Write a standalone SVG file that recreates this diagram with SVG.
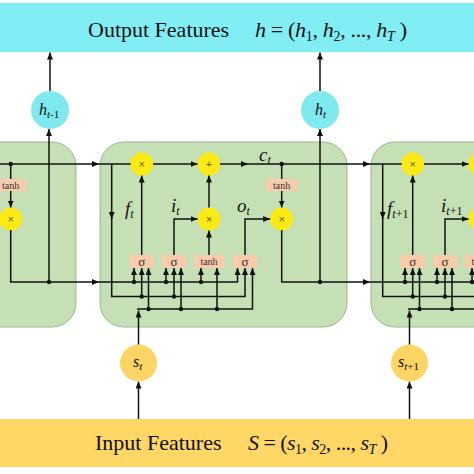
<svg xmlns="http://www.w3.org/2000/svg" xmlns:xlink="http://www.w3.org/1999/xlink" width="474" height="474" viewBox="0 0 474 474">
<style>
.w{fill:none;stroke:#111;stroke-width:1.5}
.a{marker-end:url(#arr)}
.dot{fill:#111}
.cell{fill:#c5e0b4;stroke:#9fb393;stroke-width:1}
.y{fill:#fbea14}
.bx{fill:#f8cbad}
.op{font-family:"Liberation Sans",sans-serif;font-size:11px;fill:#6b5a3a;text-anchor:middle}
.g{font-family:"Liberation Serif",serif;fill:#333;text-anchor:middle}
.t{font-family:"Liberation Serif",serif;fill:#111}
.i{font-style:italic}
</style>
<defs>
<marker id="arr" viewBox="0 0 7 6" refX="7" refY="3" markerWidth="7" markerHeight="6" markerUnits="userSpaceOnUse" orient="auto">
<path d="M0,0 L7,3 L0,6 z" fill="#111"/>
</marker>
<g id="cellBody">
<rect class="cell" x="100" y="142" width="247" height="185" rx="24"/>
<circle class="y" cx="141.7" cy="164" r="11.5"/>
<circle class="y" cx="209" cy="164" r="11.5"/>
<circle class="y" cx="209" cy="219" r="11.5"/>
<circle class="y" cx="281.7" cy="219" r="11.5"/>
<text class="op" x="141.7" y="168">×</text>
<text class="op" x="209" y="168">+</text>
<text class="op" x="209" y="223">×</text>
<text class="op" x="281.7" y="223">×</text>
<rect class="bx" x="129.5" y="255" width="24" height="13"/>
<rect class="bx" x="162" y="255" width="24" height="13"/>
<rect class="bx" x="193.5" y="255" width="31" height="13"/>
<rect class="bx" x="233" y="255" width="24" height="13"/>
<rect class="bx" x="266.2" y="179" width="31" height="12"/>
<text class="g" x="141.7" y="266" font-size="13">σ</text>
<text class="g" x="174" y="266" font-size="13">σ</text>
<text class="g" x="209" y="265" font-size="10">tanh</text>
<text class="g" x="245" y="266" font-size="13">σ</text>
<text class="g" x="281.7" y="188.5" font-size="10">tanh</text>
</g>
<g id="cellWires">
<path class="w" d="M99 164 H130.7"/>
<path class="w a" d="M153 164 H197.5"/>
<path class="w a" d="M220 164 H248"/>
<path class="w a" d="M248 164 H370"/>
<path class="w" d="M281.7 164 V179"/>
<path class="w a" d="M281.7 191 V207.5"/>
<path class="w a" d="M141.7 255 V175.5"/>
<path class="w a" d="M174 255 V219 H197.5"/>
<path class="w a" d="M209 255 V230.5"/>
<path class="w a" d="M209 207.5 V175.5"/>
<path class="w a" d="M245 255 V219 H270.2"/>
<path class="w a" d="M281.7 230 V282 H370"/>
<path class="w a" d="M320 282 V129"/>
<path class="w a" d="M111.7 164 V219"/>
<path class="w a" d="M111.7 217 V296.5 H245 V268"/>
<path class="w a" d="M141.7 296.5 V268"/>
<path class="w a" d="M174 296.5 V268"/>
<path class="w a" d="M99 282 H237.5 V268"/>
<path class="w a" d="M134 282 V268"/>
<path class="w a" d="M166 282 V268"/>
<path class="w a" d="M201 282 V268"/>
<path class="w a" d="M137 309 H252.5 V268"/>
<path class="w a" d="M148.5 309 V268"/>
<path class="w a" d="M181 309 V268"/>
<path class="w a" d="M217 309 V268"/>
<path class="w a" d="M138.5 345 V310.5"/>
<circle class="dot" cx="281.7" cy="164" r="2.2"/>
<circle class="dot" cx="320" cy="282" r="2.2"/>
<circle class="dot" cx="141.7" cy="296.5" r="2.2"/>
<circle class="dot" cx="174" cy="296.5" r="2.2"/>
<circle class="dot" cx="134" cy="282" r="2.2"/>
<circle class="dot" cx="166" cy="282" r="2.2"/>
<circle class="dot" cx="201" cy="282" r="2.2"/>
<circle class="dot" cx="148.5" cy="309" r="2.2"/>
<circle class="dot" cx="181" cy="309" r="2.2"/>
<circle class="dot" cx="217" cy="309" r="2.2"/>
</g>
</defs>

<g id="output-bar">
<rect x="0" y="3" width="474" height="49" fill="#80eef4"/>
<text class="t" x="88" y="37" font-size="22">Output Features</text>
<text class="t" x="255" y="37" font-size="22" textLength="152" lengthAdjust="spacing"><tspan class="i">h</tspan> = (<tspan class="i">h</tspan><tspan font-size="14" dy="4">1</tspan><tspan dy="-4">, </tspan><tspan class="i">h</tspan><tspan font-size="14" dy="4">2</tspan><tspan dy="-4">, ..., </tspan><tspan class="i">h</tspan><tspan class="i" font-size="14" dy="4">T</tspan><tspan dy="-4"> )</tspan></text>
</g>

<g id="input-bar">
<rect x="0" y="419" width="474" height="48" fill="#fed766"/>
<text class="t" x="95" y="450" font-size="22">Input Features</text>
<text class="t" x="248" y="450" font-size="22" textLength="140" lengthAdjust="spacing"><tspan class="i">S</tspan> = (<tspan class="i">s</tspan><tspan font-size="14" dy="4">1</tspan><tspan dy="-4">, </tspan><tspan class="i">s</tspan><tspan font-size="14" dy="4">2</tspan><tspan dy="-4">, ..., </tspan><tspan class="i">s</tspan><tspan class="i" font-size="14" dy="4">T</tspan><tspan dy="-4"> )</tspan></text>
</g>

<g id="cell-prev"><use xlink:href="#cellBody" transform="translate(-271 0)"/></g>
<g id="cell-t"><use xlink:href="#cellBody"/></g>
<g id="cell-next"><use xlink:href="#cellBody" transform="translate(271 0)"/></g>

<g id="connectors">
<use xlink:href="#cellWires" transform="translate(-271 0)"/>
<use xlink:href="#cellWires"/>
<use xlink:href="#cellWires" transform="translate(271 0)"/>
<path class="w a" d="M50 91 V52.5"/>
<path class="w a" d="M320 91 V52.5"/>
<path class="w a" d="M138.5 419 V381.5"/>
<path class="w a" d="M409.5 419 V381.5"/>
</g>

<g id="labels">
<text class="t" x="259" y="161" font-size="19"><tspan class="i">c</tspan><tspan class="i" font-size="12" dy="3">t</tspan></text>
<text class="t" x="125" y="215" font-size="19"><tspan class="i">f</tspan><tspan class="i" font-size="12" dy="3">t</tspan></text>
<text class="t" x="171" y="212" font-size="19"><tspan class="i">i</tspan><tspan class="i" font-size="12" dy="3">t</tspan></text>
<text class="t" x="237" y="212" font-size="19"><tspan class="i">o</tspan><tspan class="i" font-size="12" dy="3">t</tspan></text>
<text class="t" x="387" y="215" font-size="19"><tspan class="i">f</tspan><tspan font-size="12" dy="3"><tspan class="i">t</tspan>+1</tspan></text>
<text class="t" x="441" y="212" font-size="19"><tspan class="i">i</tspan><tspan font-size="12" dy="3"><tspan class="i">t</tspan>+1</tspan></text>
</g>

<g id="h-prev">
<circle cx="50" cy="110" r="19" fill="#7fe9f0"/>
<text class="t" x="39" y="115" font-size="16"><tspan class="i">h</tspan><tspan class="i" font-size="11" dy="3">t</tspan><tspan font-size="11">-1</tspan></text>
</g>
<g id="h-t">
<circle cx="320" cy="110" r="19" fill="#7fe9f0"/>
<text class="t" x="315" y="115" font-size="16"><tspan class="i">h</tspan><tspan class="i" font-size="11" dy="3">t</tspan></text>
</g>
<g id="s-t">
<circle cx="138.5" cy="363" r="18.5" fill="#fcd565"/>
<text class="t" x="133" y="367" font-size="16"><tspan class="i">s</tspan><tspan class="i" font-size="11" dy="3">t</tspan></text>
</g>
<g id="s-next">
<circle cx="409.5" cy="363" r="18.5" fill="#fcd565"/>
<text class="t" x="398" y="367" font-size="16"><tspan class="i">s</tspan><tspan font-size="11" dy="3"><tspan class="i">t</tspan>+1</tspan></text>
</g>
</svg>
